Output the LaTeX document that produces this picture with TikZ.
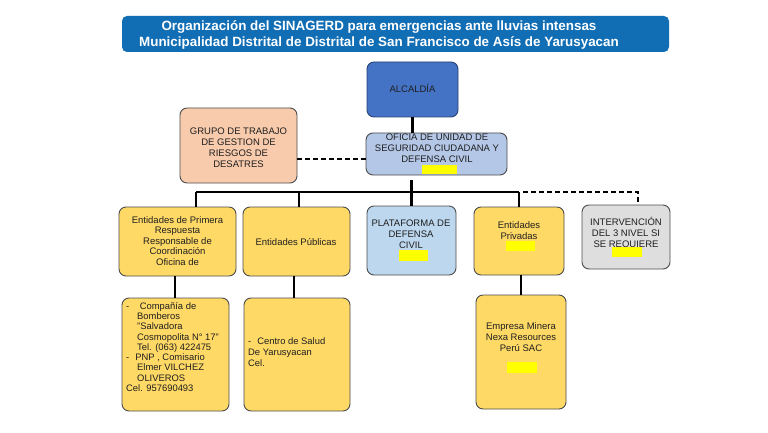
\documentclass[tikz,border=0pt]{standalone}
\usepackage{fontspec}
\setmainfont{Liberation Sans}
\definecolor{titleblue}{RGB}{17,110,181}
\definecolor{alcblue}{RGB}{68,114,196}
\definecolor{ofiblue}{RGB}{180,199,231}
\definecolor{grupo}{RGB}{248,203,173}
\definecolor{yel}{RGB}{255,217,102}
\definecolor{plat}{RGB}{189,215,238}
\definecolor{intgray}{RGB}{222,222,222}
\definecolor{hl}{RGB}{255,255,0}
\begin{document}
\begin{tikzpicture}[x=1pt,y=-1pt,
  box/.style={draw=black!70, line width=0.9pt, rounded corners=7pt, inner sep=0pt},
  lbl/.style={align=center, inner sep=0pt, font=\fontsize{9.5}{10.9}\selectfont, text=black!88},
  lbll/.style={align=left, inner sep=0pt, anchor=north west, font=\fontsize{9.4}{10.3}\selectfont, text=black!88},
  hlbox/.style={fill=hl, inner sep=0pt},
  conn/.style={line width=2.6pt, black},
  bus/.style={line width=1.8pt, black},
  dconn/.style={line width=1.8pt, black, dash pattern=on 5pt off 3pt}]
\useasboundingbox (0,0) rectangle (768,433);
% title
\node[fill=titleblue, rounded corners=5pt, minimum width=547pt, minimum height=36pt, inner sep=0pt] (title) at (395.5,34) {};
\node[align=center, inner sep=0pt, text=white, font=\bfseries\fontsize{13.4}{16}\selectfont] (titletxt) at (379,35) {Organización del SINAGERD para emergencias ante lluvias intensas\\Municipalidad Distrital de Distrital de San Francisco de Asís de Yarusyacan};
% top
\node[box, fill=alcblue, draw=alcblue!60!black, minimum width=91pt, minimum height=55pt] (alc) at (412.5,89.5) {};
\node[lbl] (alct) at (412.5,88) {ALCALDÍA};
\node[box, fill=ofiblue, minimum width=141pt, minimum height=42pt] (ofi) at (436.5,154) {};
\node[lbl] (ofit) at (437,148) {OFICIA DE UNIDAD DE\\SEGURIDAD CIUDADANA Y\\DEFENSA CIVIL};
\node[hlbox, minimum width=35pt, minimum height=9pt] (ofihl) at (439.5,169.5) {};
\node[box, fill=grupo, minimum width=117pt, minimum height=75pt] (grp) at (238.5,145.5) {};
\node[lbl] (grpt) at (238.5,147.5) {GRUPO DE TRABAJO\\DE GESTION DE\\RIESGOS DE\\DESATRES};
% second row
\node[box, fill=yel, minimum width=117pt, minimum height=69pt] (prim) at (177.5,241.5) {};
\node[lbl, font=\fontsize{9.5}{10.5}\selectfont] (primt) at (177.5,241) {Entidades de Primera\\Respuesta\\Responsable de\\Coordinación\\Oficina de};
\node[box, fill=yel, minimum width=107pt, minimum height=69pt] (pub) at (296.5,241.5) {};
\node[lbl] (pubt) at (296,242) {Entidades Públicas};
\node[box, fill=plat, minimum width=89pt, minimum height=69pt] (pla) at (411.5,240.5) {};
\node[lbl] (plat) at (411,234) {PLATAFORMA DE\\DEFENSA\\CIVIL};
\node[hlbox, minimum width=29pt, minimum height=11pt] (plahl) at (413.5,255.5) {};
\node[box, fill=yel, minimum width=90pt, minimum height=68pt] (pri) at (519,241) {};
\node[lbl] (prit) at (519,230.5) {Entidades\\Privadas};
\node[hlbox, minimum width=29pt, minimum height=10pt] (prihl) at (520.5,246) {};
\node[box, fill=intgray, minimum width=88pt, minimum height=64pt] (int) at (626,237) {};
\node[lbl] (intt) at (626,233) {INTERVENCIÓN\\DEL 3 NIVEL SI\\SE REQUIERE};
\node[hlbox, minimum width=30pt, minimum height=10pt] (inthl) at (627,252) {};
% third row
\node[box, fill=yel, minimum width=107pt, minimum height=113pt] (cia) at (175.5,354.5) {};
\node[lbll] (ciat) at (126,302) {-\hspace{10.5pt}Compañía de\\\hspace{11pt}Bomberos\\\hspace{11pt}"Salvadora\\\hspace{11pt}Cosmopolita N° 17"\\\hspace{11pt}Tel. (063) 422475\\-\hspace{6pt}PNP , Comisario\\\hspace{11pt}Elmer VILCHEZ\\\hspace{11pt}OLIVEROS\\Cel. 957690493};
\node[box, fill=yel, minimum width=106pt, minimum height=113pt] (csa) at (297,354.5) {};
\node[lbll, font=\fontsize{9.4}{10.8}\selectfont] (csat) at (248,337.5) {-\hspace{6pt}Centro de Salud\\De Yarusyacan\\Cel.};
\node[box, fill=yel, minimum width=90pt, minimum height=114pt] (emp) at (521,352) {};
\node[lbl] (empt) at (521,337) {Empresa Minera\\Nexa Resources\\Perú SAC};
\node[hlbox, minimum width=30pt, minimum height=11pt] (emphl) at (522,367.5) {};
% connectors
\draw[conn] (alc.south) -- (ofi.north -| alc.south);
\draw[dconn] (grp.east |- 0,159) -- (ofi.west |- 0,159);
\coordinate (b1) at (196,192);
\coordinate (b2) at (299,192);
\coordinate (b3) at (411.5,192);
\coordinate (b4) at (519,192);
\coordinate (d1) at (523,192);
\coordinate (d2) at (638,192);
\draw[conn] (b3 |- ofi.south) ++(0,5) -- (b3);
\draw[bus] (b1) -- (b4);
\draw[conn] (b1) -- (b1 |- prim.north);
\draw[conn] (b2) -- (b2 |- pub.north);
\draw[conn] (b3) -- (pla.north);
\draw[conn] (b4) -- (pri.north);
\draw[dconn] (d1) -- (d2) -- (d2 |- int.north);
\draw[conn] (prim.south -| 175,0) -- (cia.north -| 175,0);
\draw[conn] (pub.south -| 294,0) -- (csa.north -| 294,0);
\draw[conn] (pri.south -| 521,0) -- (emp.north);
\end{tikzpicture}
\end{document}
